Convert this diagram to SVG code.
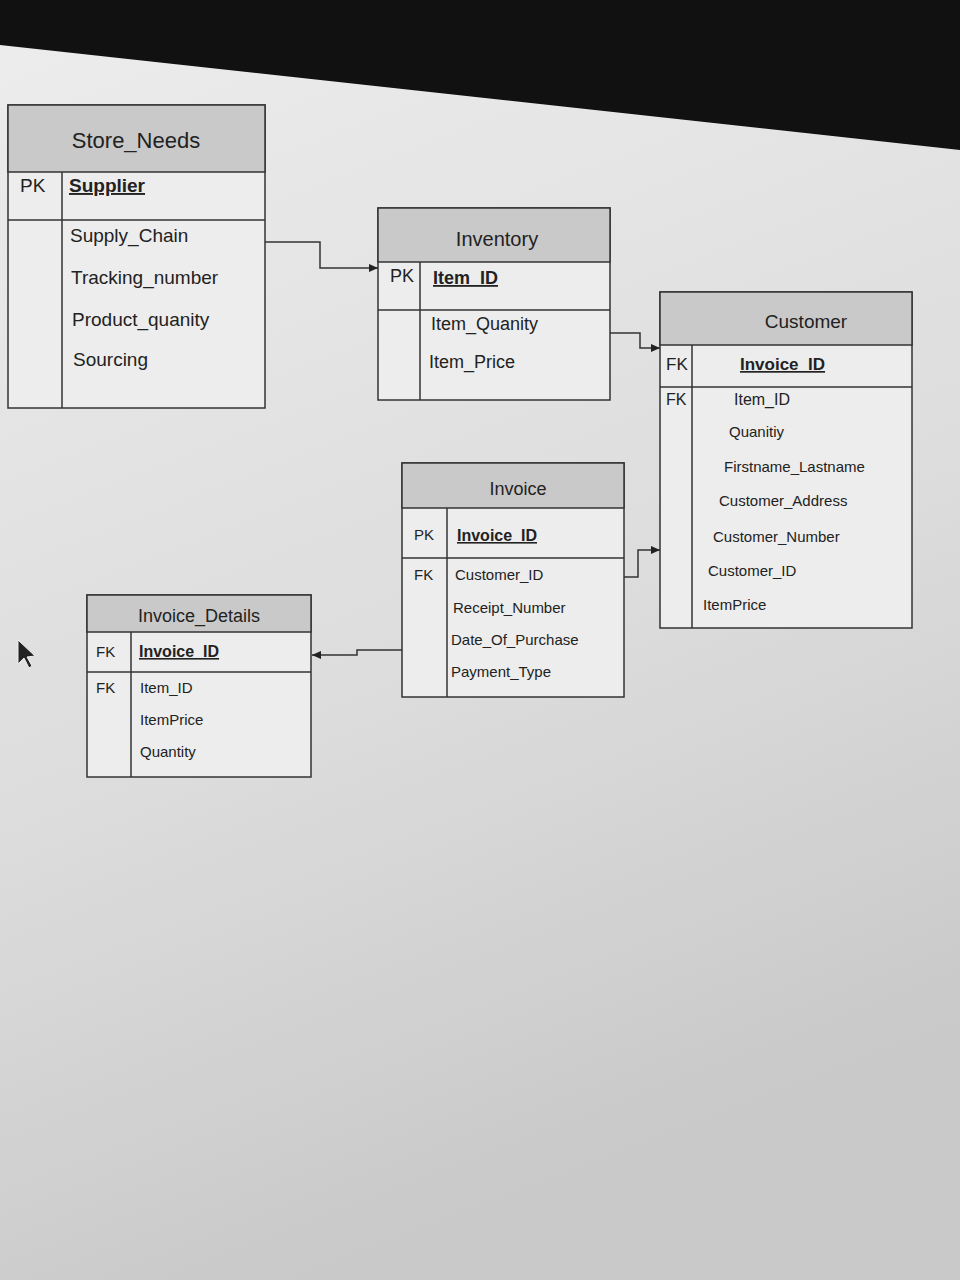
<svg xmlns="http://www.w3.org/2000/svg" width="960" height="1280" viewBox="0 0 960 1280">
<defs>
<linearGradient id="scr" x1="0" y1="0" x2="0.3" y2="1">
<stop offset="0" stop-color="#ececec"/><stop offset="0.6" stop-color="#dcdcdc"/><stop offset="1" stop-color="#c9c9c9"/>
</linearGradient>
<marker id="ar" markerWidth="10" markerHeight="10" refX="9" refY="5" orient="auto" markerUnits="userSpaceOnUse"><path d="M0,1 L9,5 L0,9 Z" fill="#222"/></marker>
<style>
.box{fill:#ededed;stroke:#333;stroke-width:1.5}
.hd{fill:#c9c9c9;stroke:#333;stroke-width:1.5}
.ln{stroke:#333;stroke-width:1.5;fill:none}
.t{font-family:"Liberation Sans",Arial,sans-serif;fill:#222}
.k{font-weight:bold;text-decoration:underline}
.c{fill:none;stroke:#333;stroke-width:1.5;marker-end:url(#ar)}
</style>
</defs>
<rect width="960" height="1280" fill="#111"/>
<polygon points="0,45 960,150 960,1280 0,1280" fill="url(#scr)"/>

<g id="store_needs">
<rect class="box" x="8" y="105" width="257" height="303"/>
<rect class="hd" x="8" y="105" width="257" height="67"/>
<line class="ln" x1="8" y1="220" x2="265" y2="220"/>
<line class="ln" x1="62" y1="172" x2="62" y2="408"/>
<text class="t" x="136" y="148" font-size="22" text-anchor="middle">Store_Needs</text>
<text class="t" x="20" y="192" font-size="19">PK</text>
<text class="t k" x="69" y="192" font-size="19">Supplier</text>
<text class="t" x="70" y="242" font-size="19">Supply_Chain</text>
<text class="t" x="71" y="284" font-size="19">Tracking_number</text>
<text class="t" x="72" y="326" font-size="19">Product_quanity</text>
<text class="t" x="73" y="366" font-size="19">Sourcing</text>
</g>

<g id="inventory">
<rect class="box" x="378" y="208" width="232" height="192"/>
<rect class="hd" x="378" y="208" width="232" height="54"/>
<line class="ln" x1="378" y1="310" x2="610" y2="310"/>
<line class="ln" x1="420" y1="262" x2="420" y2="400"/>
<text class="t" x="497" y="246" font-size="20" text-anchor="middle">Inventory</text>
<text class="t" x="390" y="282" font-size="18">PK</text>
<text class="t k" x="433" y="284" font-size="18">Item_ID</text>
<text class="t" x="431" y="330" font-size="18">Item_Quanity</text>
<text class="t" x="429" y="368" font-size="18">Item_Price</text>
</g>

<g id="customer">
<rect class="box" x="660" y="292" width="252" height="336"/>
<rect class="hd" x="660" y="292" width="252" height="53"/>
<line class="ln" x1="660" y1="387" x2="912" y2="387"/>
<line class="ln" x1="692" y1="345" x2="692" y2="628"/>
<text class="t" x="806" y="328" font-size="19" text-anchor="middle">Customer</text>
<text class="t" x="666" y="370" font-size="17">FK</text>
<text class="t k" x="740" y="370" font-size="17">Invoice_ID</text>
<text class="t" x="666" y="405" font-size="16">FK</text>
<text class="t" x="734" y="405" font-size="16">Item_ID</text>
<text class="t" x="729" y="437" font-size="15">Quanitiy</text>
<text class="t" x="724" y="472" font-size="15">Firstname_Lastname</text>
<text class="t" x="719" y="506" font-size="15">Customer_Address</text>
<text class="t" x="713" y="542" font-size="15">Customer_Number</text>
<text class="t" x="708" y="576" font-size="15">Customer_ID</text>
<text class="t" x="703" y="610" font-size="15">ItemPrice</text>
</g>

<g id="invoice">
<rect class="box" x="402" y="463" width="222" height="234"/>
<rect class="hd" x="402" y="463" width="222" height="45"/>
<line class="ln" x1="402" y1="558" x2="624" y2="558"/>
<line class="ln" x1="447" y1="508" x2="447" y2="697"/>
<text class="t" x="518" y="495" font-size="18" text-anchor="middle">Invoice</text>
<text class="t" x="414" y="540" font-size="15">PK</text>
<text class="t k" x="457" y="541" font-size="16">Invoice_ID</text>
<text class="t" x="414" y="580" font-size="15">FK</text>
<text class="t" x="455" y="580" font-size="15">Customer_ID</text>
<text class="t" x="453" y="613" font-size="15">Receipt_Number</text>
<text class="t" x="451" y="645" font-size="15">Date_Of_Purchase</text>
<text class="t" x="451" y="677" font-size="15">Payment_Type</text>
</g>

<g id="invoice_details">
<rect class="box" x="87" y="595" width="224" height="182"/>
<rect class="hd" x="87" y="595" width="224" height="37"/>
<line class="ln" x1="87" y1="672" x2="311" y2="672"/>
<line class="ln" x1="131" y1="632" x2="131" y2="777"/>
<text class="t" x="199" y="622" font-size="18" text-anchor="middle">Invoice_Details</text>
<text class="t" x="96" y="657" font-size="15">FK</text>
<text class="t k" x="139" y="657" font-size="16">Invoice_ID</text>
<text class="t" x="96" y="693" font-size="15">FK</text>
<text class="t" x="140" y="693" font-size="15">Item_ID</text>
<text class="t" x="140" y="725" font-size="15">ItemPrice</text>
<text class="t" x="140" y="757" font-size="15">Quantity</text>
</g>

<g id="connectors">
<path class="c" d="M265,242 H320 V268 H378"/>
<path class="c" d="M610,333 H640 V348 H660"/>
<path class="c" d="M624,577 H638 V550 H660"/>
<path class="c" d="M402,650 H357 V655 H312"/>
</g>

<polygon points="18,640 18,664 24,658 29,668 32,666 27,657 35,656" fill="#222" stroke="#eee" stroke-width="1"/>
</svg>
